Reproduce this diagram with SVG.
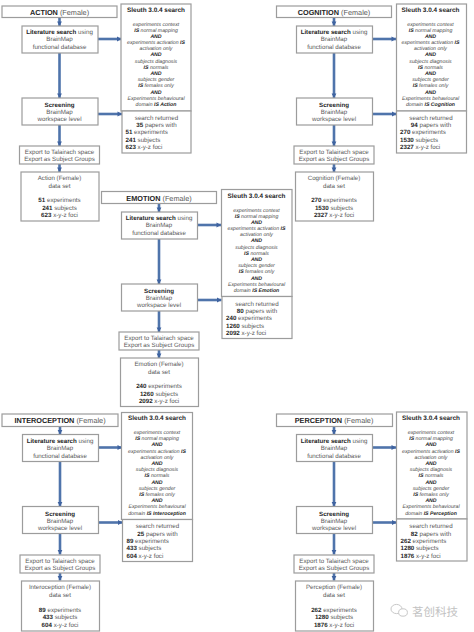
<svg xmlns="http://www.w3.org/2000/svg" width="474" height="632" viewBox="0 0 474 632">
<style>
text{font-family:"Liberation Sans",Arial,sans-serif;fill:#5a5a5a;font-size:6.2px;text-rendering:geometricPrecision}
.c{text-anchor:middle}
.b{font-weight:bold;fill:#262626}
.h{font-size:7.3px}
.s{font-size:5.2px;font-style:italic;text-anchor:middle;fill:#4a4a4a}
.st{font-size:6.4px;font-weight:bold;fill:#262626;text-anchor:middle}
.sb{font-weight:bold;fill:#1c1c1c}
rect{fill:#fff;stroke:#9c9c9c;stroke-width:1.2}
.conn line{stroke:#4f74ab;fill:none}
.v{stroke-width:2.6}
.hz{stroke-width:2.6}
.wm{font-family:"Noto Sans CJK SC","Liberation Sans",sans-serif;font-size:11.5px;fill:#c2c2c2}
</style>
<defs>
<marker id="ah" markerUnits="userSpaceOnUse" markerWidth="6" markerHeight="6" refX="5" refY="3" orient="auto"><path d="M0.5,0.6L5,3L0.5,5.4Z" fill="#3f63a0"/></marker>
</defs>
<rect x="0" y="0" width="474" height="632" style="fill:#fff;stroke:none"/>
<g id="connectors" class="conn">
<g id="conn-action"><line class="v" x1="59.5" y1="17.5" x2="59.5" y2="26" marker-end="url(#ah)"/><line class="v" x1="59.5" y1="53" x2="59.5" y2="98" marker-end="url(#ah)"/><line class="v" x1="59.5" y1="125" x2="59.5" y2="146" marker-end="url(#ah)"/><line class="v" x1="59.5" y1="164" x2="59.5" y2="172" marker-end="url(#ah)"/><line class="hz" x1="98" y1="39" x2="121.5" y2="39" marker-end="url(#ah)"/><line class="hz" x1="98" y1="114" x2="122" y2="114" marker-end="url(#ah)"/></g>
<g id="conn-cognition" transform="translate(274.5,0)"><line class="v" x1="59.5" y1="17.5" x2="59.5" y2="26" marker-end="url(#ah)"/><line class="v" x1="59.5" y1="53" x2="59.5" y2="98" marker-end="url(#ah)"/><line class="v" x1="59.5" y1="125" x2="59.5" y2="146" marker-end="url(#ah)"/><line class="v" x1="59.5" y1="164" x2="59.5" y2="172" marker-end="url(#ah)"/><line class="hz" x1="98" y1="39" x2="121.5" y2="39" marker-end="url(#ah)"/><line class="hz" x1="98" y1="114" x2="122" y2="114" marker-end="url(#ah)"/></g>
<g id="conn-emotion" transform="translate(99.5,186)"><line class="v" x1="59.5" y1="17.5" x2="59.5" y2="26" marker-end="url(#ah)"/><line class="v" x1="59.5" y1="53" x2="59.5" y2="98" marker-end="url(#ah)"/><line class="v" x1="59.5" y1="125" x2="59.5" y2="146" marker-end="url(#ah)"/><line class="v" x1="59.5" y1="164" x2="59.5" y2="172" marker-end="url(#ah)"/><line class="hz" x1="98" y1="39" x2="121.5" y2="39" marker-end="url(#ah)"/><line class="hz" x1="98" y1="114" x2="122" y2="114" marker-end="url(#ah)"/></g>
<g id="conn-interoception" transform="translate(0.5,408.5)"><line class="v" x1="59.5" y1="17.5" x2="59.5" y2="26" marker-end="url(#ah)"/><line class="v" x1="59.5" y1="53" x2="59.5" y2="98" marker-end="url(#ah)"/><line class="v" x1="59.5" y1="125" x2="59.5" y2="146" marker-end="url(#ah)"/><line class="v" x1="59.5" y1="164" x2="59.5" y2="172" marker-end="url(#ah)"/><line class="hz" x1="98" y1="39" x2="121.5" y2="39" marker-end="url(#ah)"/><line class="hz" x1="98" y1="114" x2="122" y2="114" marker-end="url(#ah)"/></g>
<g id="conn-perception" transform="translate(274.5,408.5)"><line class="v" x1="59.5" y1="17.5" x2="59.5" y2="26" marker-end="url(#ah)"/><line class="v" x1="59.5" y1="53" x2="59.5" y2="98" marker-end="url(#ah)"/><line class="v" x1="59.5" y1="125" x2="59.5" y2="146" marker-end="url(#ah)"/><line class="v" x1="59.5" y1="164" x2="59.5" y2="172" marker-end="url(#ah)"/><line class="hz" x1="98" y1="39" x2="121.5" y2="39" marker-end="url(#ah)"/><line class="hz" x1="98" y1="114" x2="122" y2="114" marker-end="url(#ah)"/></g>
</g>

<g id="action">
<g id="action-title"><rect x="2" y="6" width="115" height="11.5"/><text class="c h" x="59.5" y="14.6"><tspan class="b">ACTION</tspan> (Female)</text></g>
<g id="action-literature"><rect x="22" y="26" width="76" height="27"/><text class="c" x="59.5" y="34.2"><tspan class="b">Literature search</tspan> using</text><text class="c" x="59.5" y="41.4">BrainMap</text><text class="c" x="59.5" y="49">functional database</text></g>
<g id="action-sleuth"><rect x="121" y="4" width="70" height="107"/><text class="st" x="156" y="11.8">Sleuth 3.0.4 search</text><text class="s" x="156" y="25.5">experiments context</text><text class="s" x="156" y="31.7"><tspan class="sb">IS</tspan> normal mapping</text><text class="s sb" x="156" y="37.9">AND</text><text class="s" x="156" y="44">experiments activation <tspan class="sb">IS</tspan></text><text class="s" x="156" y="50.2">activation only</text><text class="s sb" x="156" y="56.4">AND</text><text class="s" x="156" y="62.6">subjects diagnosis</text><text class="s" x="156" y="68.8"><tspan class="sb">IS</tspan> normals</text><text class="s sb" x="156" y="75">AND</text><text class="s" x="156" y="81.2">subjects gender</text><text class="s" x="156" y="87.4"><tspan class="sb">IS</tspan> females only</text><text class="s sb" x="156" y="93.6">AND</text><text class="s" x="156" y="99.8">Experiments behavioural</text><text class="s" x="156" y="106">domain <tspan class="sb">IS Action</tspan></text></g>
<g id="action-screening"><rect x="22" y="98" width="76" height="27"/><text class="c b" x="59.5" y="107.2">Screening</text><text class="c" x="59.5" y="114.2">BrainMap</text><text class="c" x="59.5" y="121.2">workspace level</text></g>
<g id="action-result"><rect x="122" y="111" width="69" height="42"/><text class="c" x="156.5" y="119.5">search returned</text><text class="c" x="156.5" y="127"><tspan class="b">35</tspan> papers with</text><text x="125.5" y="134"><tspan class="b">51</tspan> experiments</text><text x="125.5" y="141.6"><tspan class="b">241</tspan> subjects</text><text x="125.5" y="149.4"><tspan class="b">623</tspan> x-y-z foci</text></g>
<g id="action-export"><rect x="19.5" y="146" width="80" height="18"/><text class="c" x="59.5" y="154">Export to Talairach space</text><text class="c" x="59.5" y="161.4">Export as Subject Groups</text></g>
<g id="action-dataset"><rect x="21" y="172" width="78" height="49"/><text class="c" x="59.5" y="180.4">Action (Female)</text><text class="c" x="59.5" y="187.8">data set</text><text class="c" x="59.5" y="202.4"><tspan class="b">51</tspan> experiments</text><text class="c" x="59.5" y="209.8"><tspan class="b">241</tspan> subjects</text><text class="c" x="59.5" y="217.4"><tspan class="b">623</tspan> x-y-z foci</text></g>
</g>

<g id="cognition" transform="translate(274.5,0)">
<g id="cognition-title"><rect x="2" y="6" width="115" height="11.5"/><text class="c h" x="59.5" y="14.6"><tspan class="b">COGNITION</tspan> (Female)</text></g>
<g id="cognition-literature"><rect x="22" y="26" width="76" height="27"/><text class="c" x="59.5" y="34.2"><tspan class="b">Literature search</tspan> using</text><text class="c" x="59.5" y="41.4">BrainMap</text><text class="c" x="59.5" y="49">functional database</text></g>
<g id="cognition-sleuth"><rect x="122" y="4" width="70" height="107"/><text class="st" x="156" y="11.8">Sleuth 3.0.4 search</text><text class="s" x="156" y="25.5">experiments context</text><text class="s" x="156" y="31.7"><tspan class="sb">IS</tspan> normal mapping</text><text class="s sb" x="156" y="37.9">AND</text><text class="s" x="156" y="44">experiments activation <tspan class="sb">IS</tspan></text><text class="s" x="156" y="50.2">activation only</text><text class="s sb" x="156" y="56.4">AND</text><text class="s" x="156" y="62.6">subjects diagnosis</text><text class="s" x="156" y="68.8"><tspan class="sb">IS</tspan> normals</text><text class="s sb" x="156" y="75">AND</text><text class="s" x="156" y="81.2">subjects gender</text><text class="s" x="156" y="87.4"><tspan class="sb">IS</tspan> females only</text><text class="s sb" x="156" y="93.6">AND</text><text class="s" x="156" y="99.8">Experiments behavioural</text><text class="s" x="156" y="106">domain <tspan class="sb">IS Cognition</tspan></text></g>
<g id="cognition-screening"><rect x="22" y="98" width="76" height="27"/><text class="c b" x="59.5" y="107.2">Screening</text><text class="c" x="59.5" y="114.2">BrainMap</text><text class="c" x="59.5" y="121.2">workspace level</text></g>
<g id="cognition-result"><rect x="122" y="111" width="70" height="42"/><text class="c" x="156.5" y="119.5">search returned</text><text class="c" x="156.5" y="127"><tspan class="b">94</tspan> papers with</text><text x="125.5" y="134"><tspan class="b">270</tspan> experiments</text><text x="125.5" y="141.6"><tspan class="b">1530</tspan> subjects</text><text x="125.5" y="149.4"><tspan class="b">2327</tspan> x-y-z foci</text></g>
<g id="cognition-export"><rect x="19.5" y="146" width="80" height="18"/><text class="c" x="59.5" y="154">Export to Talairach space</text><text class="c" x="59.5" y="161.4">Export as Subject Groups</text></g>
<g id="cognition-dataset"><rect x="21" y="172" width="78" height="49"/><text class="c" x="59.5" y="180.4">Cognition (Female)</text><text class="c" x="59.5" y="187.8">data set</text><text class="c" x="59.5" y="202.4"><tspan class="b">270</tspan> experiments</text><text class="c" x="59.5" y="209.8"><tspan class="b">1530</tspan> subjects</text><text class="c" x="59.5" y="217.4"><tspan class="b">2327</tspan> x-y-z foci</text></g>
</g>

<g id="emotion" transform="translate(99.5,186)">
<g id="emotion-title"><rect x="2" y="5.5" width="115" height="12"/><text class="c h" x="59.5" y="14.6"><tspan class="b">EMOTION</tspan> (Female)</text></g>
<g id="emotion-literature"><rect x="22" y="26" width="76" height="27"/><text class="c" x="59.5" y="34.2"><tspan class="b">Literature search</tspan> using</text><text class="c" x="59.5" y="41.4">BrainMap</text><text class="c" x="59.5" y="49">functional database</text></g>
<g id="emotion-sleuth"><rect x="122" y="3.5" width="70.5" height="107"/><text class="st" x="157" y="11.8">Sleuth 3.0.4 search</text><text class="s" x="157" y="25.5">experiments context</text><text class="s" x="157" y="31.7"><tspan class="sb">IS</tspan> normal mapping</text><text class="s sb" x="157" y="37.9">AND</text><text class="s" x="157" y="44">experiments activation <tspan class="sb">IS</tspan></text><text class="s" x="157" y="50.2">activation only</text><text class="s sb" x="157" y="56.4">AND</text><text class="s" x="157" y="62.6">subjects diagnosis</text><text class="s" x="157" y="68.8"><tspan class="sb">IS</tspan> normals</text><text class="s sb" x="157" y="75">AND</text><text class="s" x="157" y="81.2">subjects gender</text><text class="s" x="157" y="87.4"><tspan class="sb">IS</tspan> females only</text><text class="s sb" x="157" y="93.6">AND</text><text class="s" x="157" y="99.8">Experiments behavioural</text><text class="s" x="157" y="106">domain <tspan class="sb">IS Emotion</tspan></text></g>
<g id="emotion-screening"><rect x="22" y="98" width="76" height="27"/><text class="c b" x="59.5" y="107.2">Screening</text><text class="c" x="59.5" y="114.2">BrainMap</text><text class="c" x="59.5" y="121.2">workspace level</text></g>
<g id="emotion-result"><rect x="122.5" y="110.5" width="70" height="42"/><text class="c" x="157.5" y="119.5">search returned</text><text class="c" x="157.5" y="127"><tspan class="b">80</tspan> papers with</text><text x="126.5" y="134"><tspan class="b">240</tspan> experiments</text><text x="126.5" y="141.6"><tspan class="b">1260</tspan> subjects</text><text x="126.5" y="149.4"><tspan class="b">2092</tspan> x-y-z foci</text></g>
<g id="emotion-export"><rect x="19.5" y="146" width="80" height="18"/><text class="c" x="59.5" y="154">Export to Talairach space</text><text class="c" x="59.5" y="161.4">Export as Subject Groups</text></g>
<g id="emotion-dataset"><rect x="21" y="172" width="78" height="48.5"/><text class="c" x="59.5" y="180.4">Emotion (Female)</text><text class="c" x="59.5" y="187.8">data set</text><text class="c" x="59.5" y="202.4"><tspan class="b">240</tspan> experiments</text><text class="c" x="59.5" y="209.8"><tspan class="b">1260</tspan> subjects</text><text class="c" x="59.5" y="217.4"><tspan class="b">2092</tspan> x-y-z foci</text></g>
</g>

<g id="interoception" transform="translate(0.5,408.5)">
<g id="interoception-title"><rect x="1.5" y="5.5" width="116" height="12.5"/><text class="c h" x="59.5" y="14.8"><tspan class="b">INTEROCEPTION</tspan> (Female)</text></g>
<g id="interoception-literature"><rect x="22" y="26" width="76" height="27"/><text class="c" x="59.5" y="34.2"><tspan class="b">Literature search</tspan> using</text><text class="c" x="59.5" y="41.4">BrainMap</text><text class="c" x="59.5" y="49">functional database</text></g>
<g id="interoception-sleuth"><rect x="121" y="4" width="71" height="107"/><text class="st" x="156.5" y="11.8">Sleuth 3.0.4 search</text><text class="s" x="156.5" y="25.5">experiments context</text><text class="s" x="156.5" y="31.7"><tspan class="sb">IS</tspan> normal mapping</text><text class="s sb" x="156.5" y="37.9">AND</text><text class="s" x="156.5" y="44">experiments activation <tspan class="sb">IS</tspan></text><text class="s" x="156.5" y="50.2">activation only</text><text class="s sb" x="156.5" y="56.4">AND</text><text class="s" x="156.5" y="62.6">subjects diagnosis</text><text class="s" x="156.5" y="68.8"><tspan class="sb">IS</tspan> normals</text><text class="s sb" x="156.5" y="75">AND</text><text class="s" x="156.5" y="81.2">subjects gender</text><text class="s" x="156.5" y="87.4"><tspan class="sb">IS</tspan> females only</text><text class="s sb" x="156.5" y="93.6">AND</text><text class="s" x="156.5" y="99.8">Experiments behavioural</text><text class="s" x="156.5" y="106">domain <tspan class="sb">IS Interoception</tspan></text></g>
<g id="interoception-screening"><rect x="22" y="98" width="76" height="27"/><text class="c b" x="59.5" y="107.2">Screening</text><text class="c" x="59.5" y="114.2">BrainMap</text><text class="c" x="59.5" y="121.2">workspace level</text></g>
<g id="interoception-result"><rect x="122" y="111" width="70" height="42"/><text class="c" x="157" y="119.5">search returned</text><text class="c" x="157" y="127"><tspan class="b">25</tspan> papers with</text><text x="126" y="134"><tspan class="b">89</tspan> experiments</text><text x="126" y="141.6"><tspan class="b">433</tspan> subjects</text><text x="126" y="149.4"><tspan class="b">604</tspan> x-y-z foci</text></g>
<g id="interoception-export"><rect x="19.5" y="146.5" width="80" height="18"/><text class="c" x="59.5" y="154.5">Export to Talairach space</text><text class="c" x="59.5" y="161.9">Export as Subject Groups</text></g>
<g id="interoception-dataset"><rect x="21" y="172.5" width="78" height="50"/><text class="c" x="59.5" y="180.9">Interoception (Female)</text><text class="c" x="59.5" y="188.3">data set</text><text class="c" x="59.5" y="203"><tspan class="b">89</tspan> experiments</text><text class="c" x="59.5" y="210.4"><tspan class="b">433</tspan> subjects</text><text class="c" x="59.5" y="218"><tspan class="b">604</tspan> x-y-z foci</text></g>
</g>

<g id="perception" transform="translate(274.5,408.5)">
<g id="perception-title"><rect x="2" y="5.5" width="116" height="12.5"/><text class="c h" x="59.5" y="14.8"><tspan class="b">PERCEPTION</tspan> (Female)</text></g>
<g id="perception-literature"><rect x="22" y="26" width="76" height="27"/><text class="c" x="59.5" y="34.2"><tspan class="b">Literature search</tspan> using</text><text class="c" x="59.5" y="41.4">BrainMap</text><text class="c" x="59.5" y="49">functional database</text></g>
<g id="perception-sleuth"><rect x="122" y="3.5" width="70.5" height="107"/><text class="st" x="156.5" y="11.8">Sleuth 3.0.4 search</text><text class="s" x="156.5" y="25.5">experiments context</text><text class="s" x="156.5" y="31.7"><tspan class="sb">IS</tspan> normal mapping</text><text class="s sb" x="156.5" y="37.9">AND</text><text class="s" x="156.5" y="44">experiments activation <tspan class="sb">IS</tspan></text><text class="s" x="156.5" y="50.2">activation only</text><text class="s sb" x="156.5" y="56.4">AND</text><text class="s" x="156.5" y="62.6">subjects diagnosis</text><text class="s" x="156.5" y="68.8"><tspan class="sb">IS</tspan> normals</text><text class="s sb" x="156.5" y="75">AND</text><text class="s" x="156.5" y="81.2">subjects gender</text><text class="s" x="156.5" y="87.4"><tspan class="sb">IS</tspan> females only</text><text class="s sb" x="156.5" y="93.6">AND</text><text class="s" x="156.5" y="99.8">Experiments behavioural</text><text class="s" x="156.5" y="106">domain <tspan class="sb">IS Perception</tspan></text></g>
<g id="perception-screening"><rect x="22" y="98" width="76" height="27"/><text class="c b" x="59.5" y="107.2">Screening</text><text class="c" x="59.5" y="114.2">BrainMap</text><text class="c" x="59.5" y="121.2">workspace level</text></g>
<g id="perception-result"><rect x="122" y="110.5" width="70.5" height="42"/><text class="c" x="156.5" y="119.5">search returned</text><text class="c" x="156.5" y="127"><tspan class="b">82</tspan> papers with</text><text x="126" y="134"><tspan class="b">262</tspan> experiments</text><text x="126" y="141.6"><tspan class="b">1280</tspan> subjects</text><text x="126" y="149.4"><tspan class="b">1876</tspan> x-y-z foci</text></g>
<g id="perception-export"><rect x="19.5" y="146.5" width="80" height="18"/><text class="c" x="59.5" y="154.5">Export to Talairach space</text><text class="c" x="59.5" y="161.9">Export as Subject Groups</text></g>
<g id="perception-dataset"><rect x="21" y="172.5" width="78" height="50"/><text class="c" x="59.5" y="180.9">Perception (Female)</text><text class="c" x="59.5" y="188.3">data set</text><text class="c" x="59.5" y="203"><tspan class="b">262</tspan> experiments</text><text class="c" x="59.5" y="210.4"><tspan class="b">1280</tspan> subjects</text><text class="c" x="59.5" y="218"><tspan class="b">1876</tspan> x-y-z foci</text></g>
</g>

<g id="watermark">
<ellipse cx="396.5" cy="609" rx="5.5" ry="4.6" style="fill:#fff;stroke:#c8c8c8;stroke-width:1"/>
<ellipse cx="403" cy="612.5" rx="4.4" ry="3.7" style="fill:#fff;stroke:#c8c8c8;stroke-width:1"/>
<text class="wm" x="412" y="615.5">茗创科技</text>
</g>
</svg>
